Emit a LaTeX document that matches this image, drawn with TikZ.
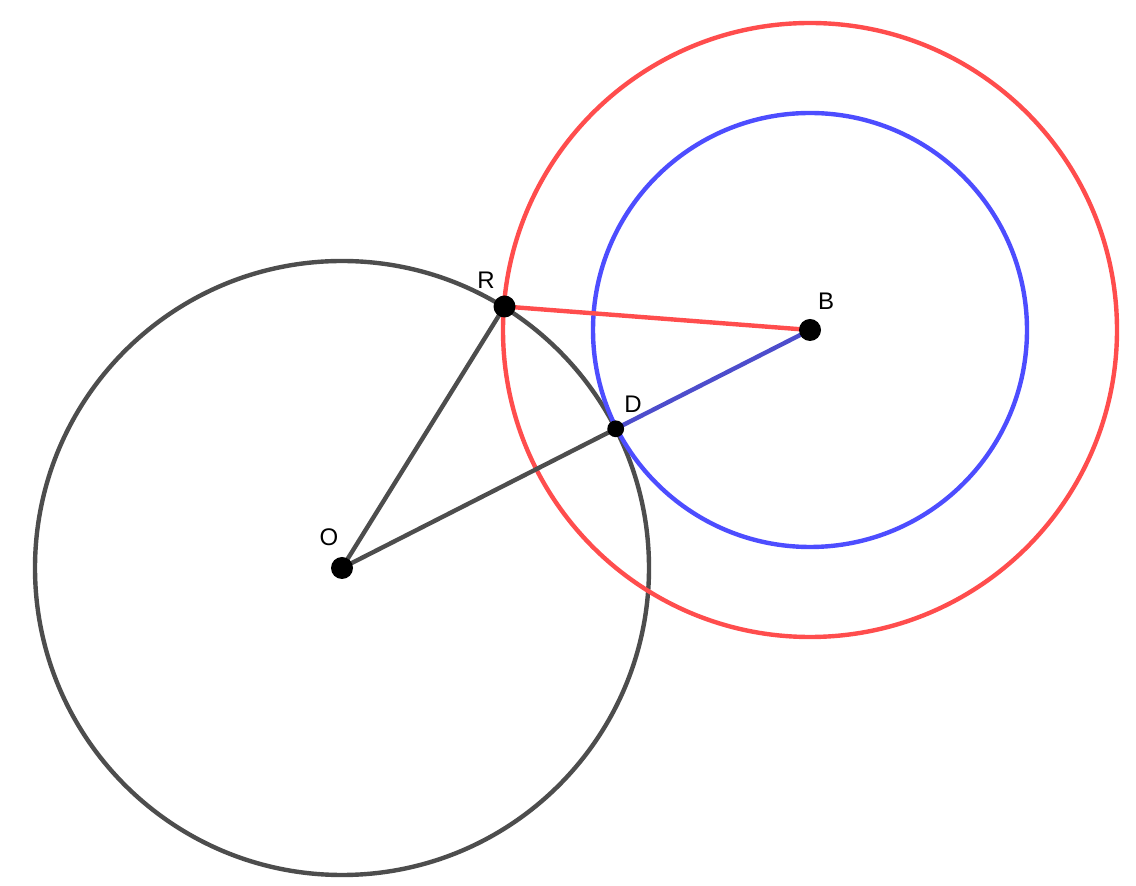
\documentclass[tikz,border=0pt]{standalone}
\usepackage{fontspec}
\setmainfont{Liberation Sans}
\tikzset{>=latex}
\definecolor{ggszary}{RGB}{77,77,77}
\definecolor{ggczerwony}{RGB}{255,77,77}
\definecolor{ggniebieski}{RGB}{77,77,255}
\definecolor{ggodcinek}{RGB}{77,77,204}
\tikzset{
	okrag/.style={line width=2.2pt},
	punkt/.style={fill=black},
	etykieta/.style={font=\fontsize{12}{14}\selectfont, inner sep=0pt}
}

\begin{document}
\begin{tikzpicture}[x=0.5pt,y=-0.5pt]
	\useasboundingbox (0,0) rectangle (1136,886);

	\coordinate (O) at (342,568);
	\coordinate (B) at (810,330);
	\coordinate (R) at (504.5,306.5);
	\coordinate (D) at (615.7,428.8);

	\draw[okrag,ggszary] (O) circle[radius=153.5pt];
	\draw[okrag,ggczerwony] (B) circle[radius=153.5pt];
	\draw[okrag,ggniebieski] (B) circle[radius=108.5pt];

	\draw[okrag,ggszary] (O)--(R);
	\draw[okrag,ggszary] (O)--(D);
	\draw[okrag,ggczerwony] (R)--(B);
	\draw[okrag,ggodcinek] (D)--(B);

	\fill[punkt] (O) circle[radius=5.5pt];
	\fill[punkt] (R) circle[radius=5.5pt];
	\fill[punkt] (B) circle[radius=5.5pt];
	\fill[punkt] (D) circle[radius=4.2pt];

	\node[etykieta] (lO) at (329,537) {O};
	\node[etykieta] (lR) at (486,280) {R};
	\node[etykieta] (lB) at (826,301) {B};
	\node[etykieta] (lD) at (633,404) {D};

\end{tikzpicture}
\end{document}
